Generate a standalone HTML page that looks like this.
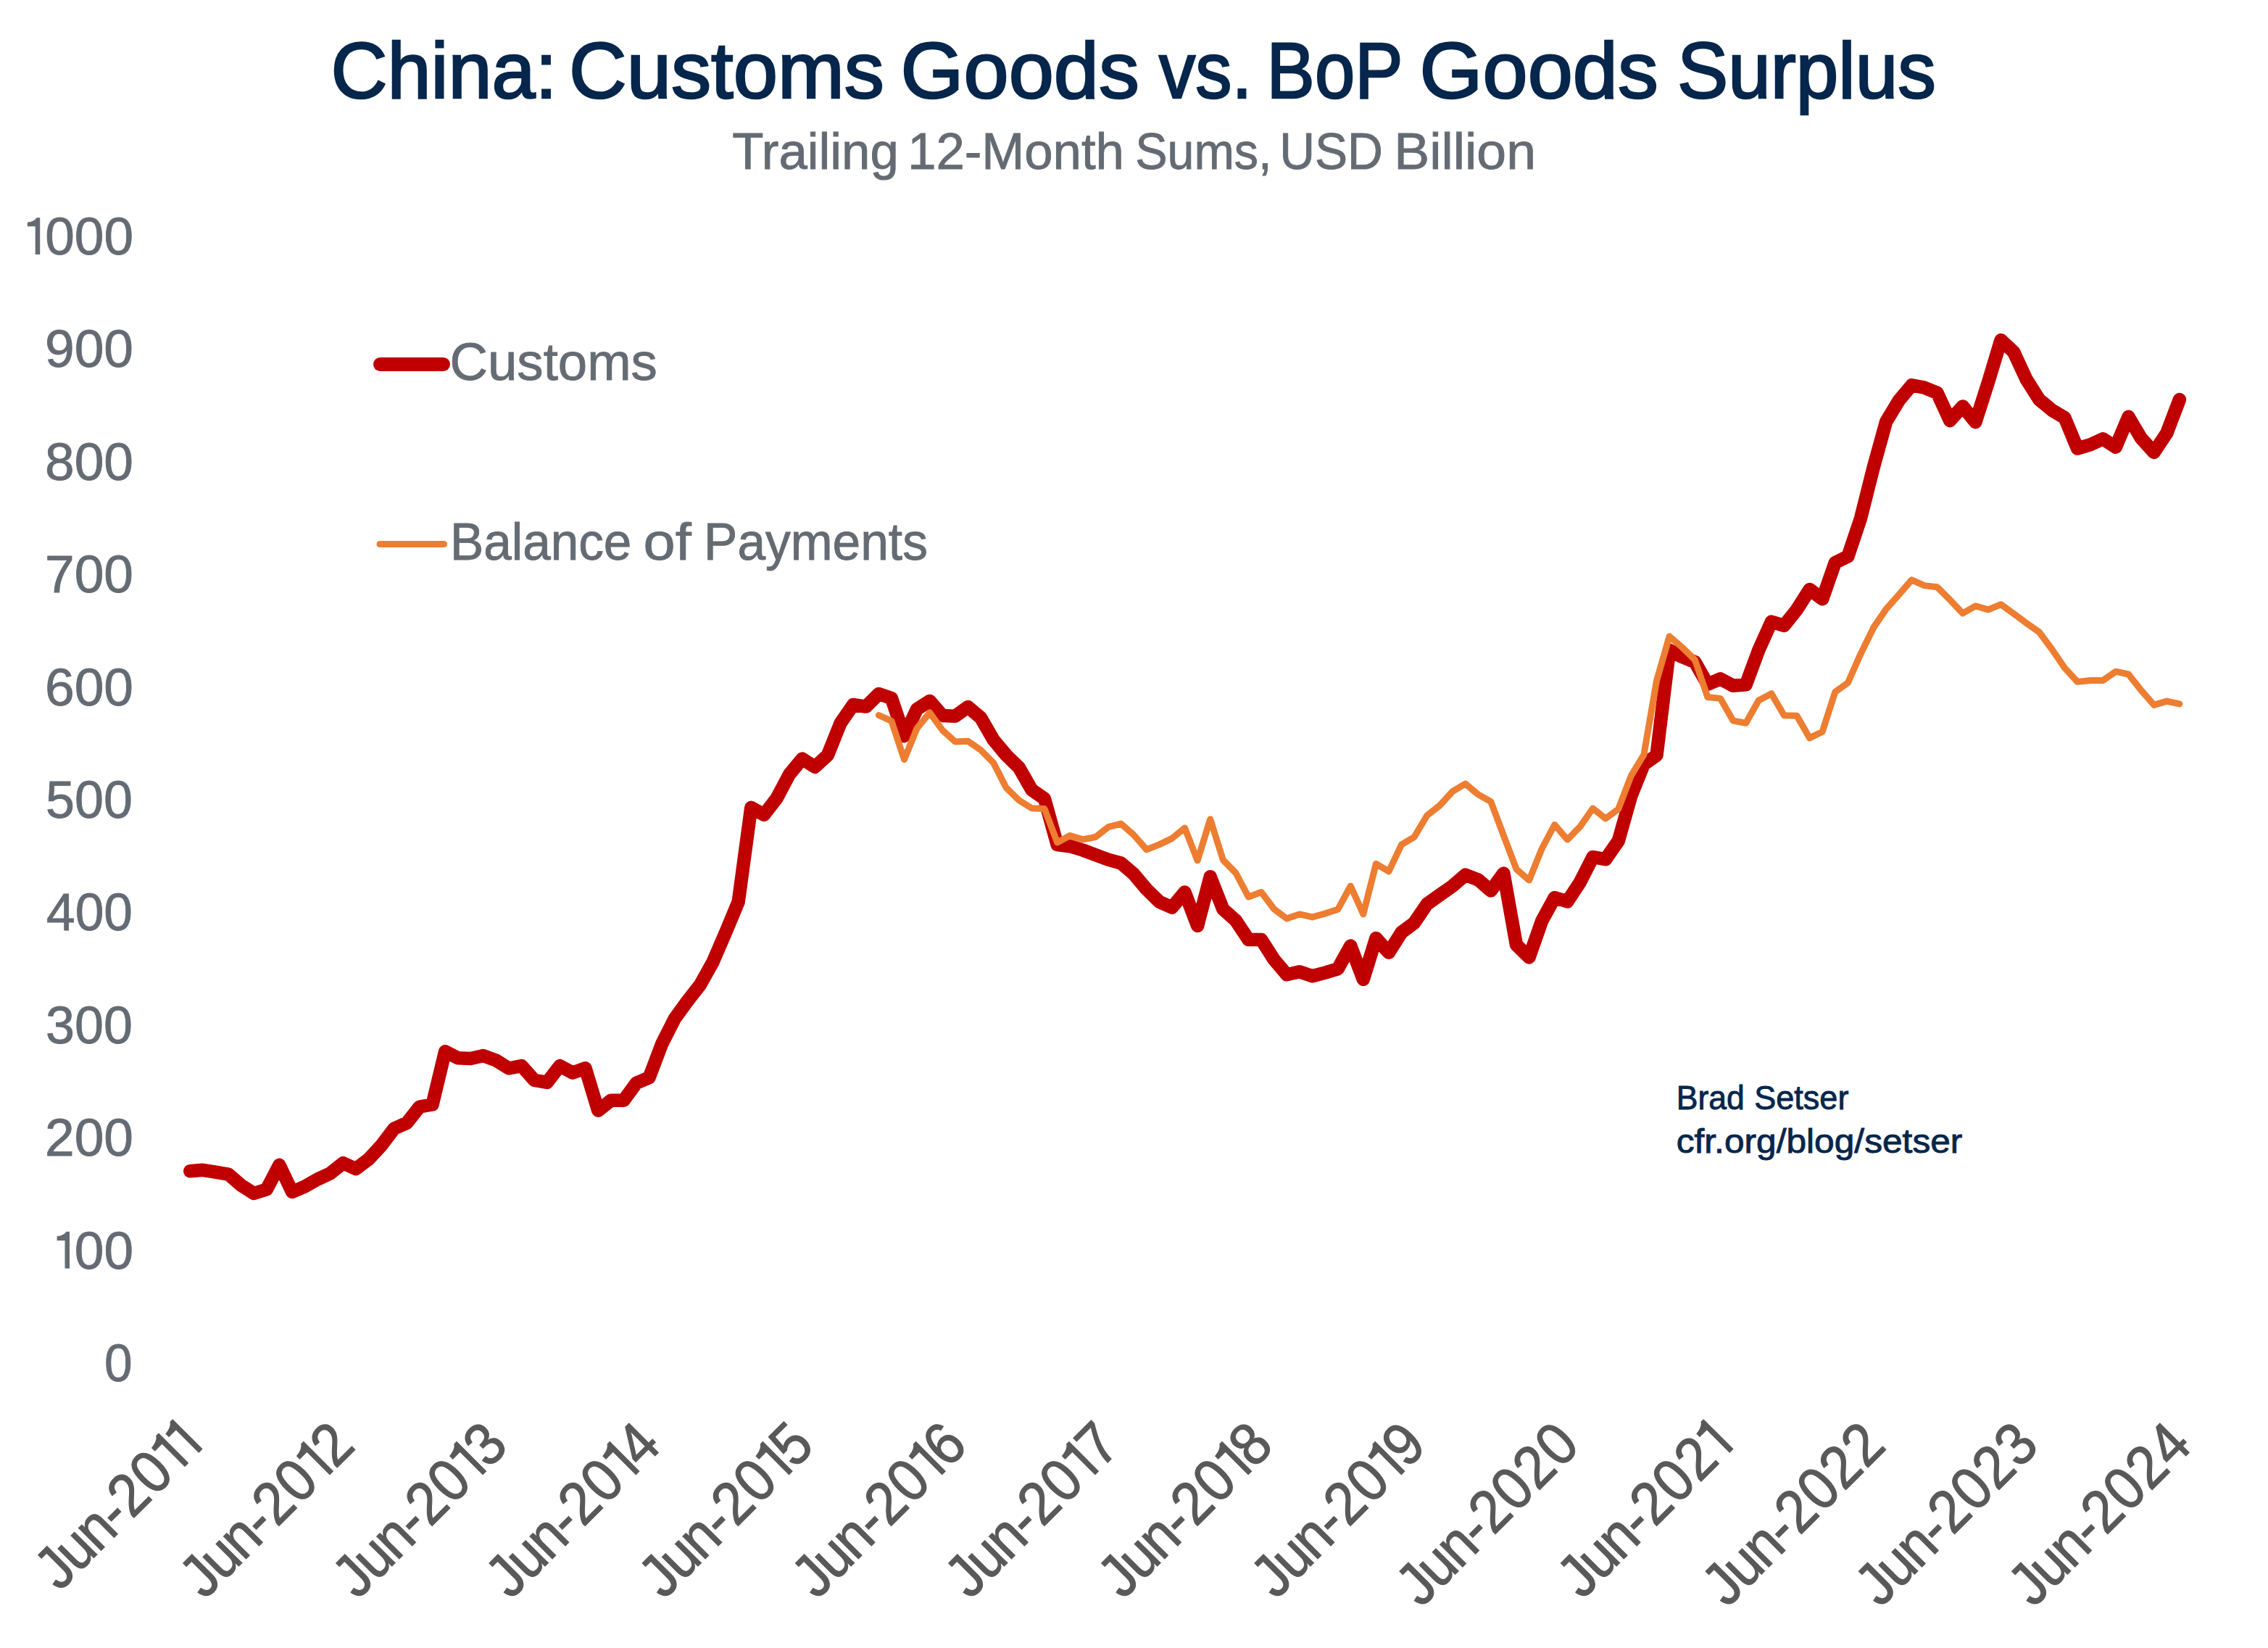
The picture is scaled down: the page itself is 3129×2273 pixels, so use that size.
<!DOCTYPE html>
<html><head><meta charset="utf-8"><title>China: Customs Goods vs. BoP Goods Surplus</title>
<style>
html,body{margin:0;padding:0;background:#fff;}
body{width:3129px;height:2273px;overflow:hidden;}
svg{display:block;}
text{font-family:"Liberation Sans",sans-serif;}
</style></head><body>
<svg width="3129" height="2273" viewBox="0 0 3129 2273">
<rect width="3129" height="2273" fill="#ffffff"/>
<text x="456.6" y="134.7" font-size="110" fill="#06264c" stroke="#06264c" stroke-width="2.6" stroke-linejoin="miter" textLength="312.0" lengthAdjust="spacingAndGlyphs">China:</text>
<text x="785.1" y="134.7" font-size="110" fill="#06264c" stroke="#06264c" stroke-width="2.6" stroke-linejoin="miter" textLength="434.8" lengthAdjust="spacingAndGlyphs">Customs</text>
<text x="1242.6" y="134.7" font-size="110" fill="#06264c" stroke="#06264c" stroke-width="2.6" stroke-linejoin="miter" textLength="329.3" lengthAdjust="spacingAndGlyphs">Goods</text>
<text x="1599.1" y="134.7" font-size="110" fill="#06264c" stroke="#06264c" stroke-width="2.6" stroke-linejoin="miter" textLength="128.2" lengthAdjust="spacingAndGlyphs">vs.</text>
<text x="1747.6" y="134.7" font-size="110" fill="#06264c" stroke="#06264c" stroke-width="2.6" stroke-linejoin="miter" textLength="187.9" lengthAdjust="spacingAndGlyphs">BoP</text>
<text x="1958.6" y="134.7" font-size="110" fill="#06264c" stroke="#06264c" stroke-width="2.6" stroke-linejoin="miter" textLength="329.3" lengthAdjust="spacingAndGlyphs">Goods</text>
<text x="2314.1" y="134.7" font-size="110" fill="#06264c" stroke="#06264c" stroke-width="2.6" stroke-linejoin="miter" textLength="356.8" lengthAdjust="spacingAndGlyphs">Surplus</text>
<text x="1010.2" y="232.5" font-size="70" fill="#646b73" stroke="#646b73" stroke-width="0.9" stroke-linejoin="miter" textLength="229.6" lengthAdjust="spacingAndGlyphs">Trailing</text>
<text x="1252.2" y="232.5" font-size="70" fill="#646b73" stroke="#646b73" stroke-width="0.9" stroke-linejoin="miter" textLength="298.7" lengthAdjust="spacingAndGlyphs">12-Month</text>
<text x="1566.2" y="232.5" font-size="70" fill="#646b73" stroke="#646b73" stroke-width="0.9" stroke-linejoin="miter" textLength="188.2" lengthAdjust="spacingAndGlyphs">Sums,</text>
<text x="1765.2" y="232.5" font-size="70" fill="#646b73" stroke="#646b73" stroke-width="0.9" stroke-linejoin="miter" textLength="142.7" lengthAdjust="spacingAndGlyphs">USD</text>
<text x="1923.2" y="232.5" font-size="70" fill="#646b73" stroke="#646b73" stroke-width="0.9" stroke-linejoin="miter" textLength="195.8" lengthAdjust="spacingAndGlyphs">Billion</text>
<text x="144.1" y="1904.9" font-size="73" fill="#646b73" stroke="#646b73" stroke-width="0.9" stroke-linejoin="miter" textLength="38.6" lengthAdjust="spacingAndGlyphs">0</text>
<text x="102.8" y="1749.5" font-size="73" fill="#646b73" stroke="#646b73" stroke-width="0.9">00</text><path transform="translate(96.0,1749.5)" d="M0.00,0 L0.00,-50.70 L-4.70,-50.70 C-6.70,-47.23 -11.41,-44.72 -17.40,-44.40 L-17.40,-38.60 L-6.50,-38.60 L-6.50,0 Z" fill="#646b73"/>
<text x="62.1" y="1594.1" font-size="73" fill="#646b73" stroke="#646b73" stroke-width="0.9" stroke-linejoin="miter" textLength="121.9" lengthAdjust="spacingAndGlyphs">200</text>
<text x="63.1" y="1438.7" font-size="73" fill="#646b73" stroke="#646b73" stroke-width="0.9" stroke-linejoin="miter" textLength="119.8" lengthAdjust="spacingAndGlyphs">300</text>
<text x="64.1" y="1283.3" font-size="73" fill="#646b73" stroke="#646b73" stroke-width="0.9" stroke-linejoin="miter" textLength="118.8" lengthAdjust="spacingAndGlyphs">400</text>
<text x="63.1" y="1127.9" font-size="73" fill="#646b73" stroke="#646b73" stroke-width="0.9" stroke-linejoin="miter" textLength="119.8" lengthAdjust="spacingAndGlyphs">500</text>
<text x="62.1" y="972.5" font-size="73" fill="#646b73" stroke="#646b73" stroke-width="0.9" stroke-linejoin="miter" textLength="121.9" lengthAdjust="spacingAndGlyphs">600</text>
<text x="62.1" y="817.1" font-size="73" fill="#646b73" stroke="#646b73" stroke-width="0.9" stroke-linejoin="miter" textLength="121.9" lengthAdjust="spacingAndGlyphs">700</text>
<text x="62.1" y="661.7" font-size="73" fill="#646b73" stroke="#646b73" stroke-width="0.9" stroke-linejoin="miter" textLength="121.9" lengthAdjust="spacingAndGlyphs">800</text>
<text x="62.1" y="506.3" font-size="73" fill="#646b73" stroke="#646b73" stroke-width="0.9" stroke-linejoin="miter" textLength="121.9" lengthAdjust="spacingAndGlyphs">900</text>
<text x="62.2" y="350.9" font-size="73" fill="#646b73" stroke="#646b73" stroke-width="0.9">000</text><path transform="translate(55.2,350.9)" d="M0.00,0 L0.00,-50.70 L-4.70,-50.70 C-6.70,-47.23 -11.41,-44.72 -17.40,-44.40 L-17.40,-38.60 L-6.50,-38.60 L-6.50,0 Z" fill="#646b73"/>
<text x="620.6" y="524.2" font-size="72" fill="#646b73" stroke="#646b73" stroke-width="0.9" stroke-linejoin="miter" textLength="286.3" lengthAdjust="spacingAndGlyphs">Customs</text>
<text x="621.1" y="772.2" font-size="72" fill="#646b73" stroke="#646b73" stroke-width="0.9" stroke-linejoin="miter" textLength="250.3" lengthAdjust="spacingAndGlyphs">Balance</text>
<text x="887.6" y="772.2" font-size="72" fill="#646b73" stroke="#646b73" stroke-width="0.9" stroke-linejoin="miter" textLength="66.2" lengthAdjust="spacingAndGlyphs">of</text>
<text x="971.1" y="772.2" font-size="72" fill="#646b73" stroke="#646b73" stroke-width="0.9" stroke-linejoin="miter" textLength="308.8" lengthAdjust="spacingAndGlyphs">Payments</text>
<text x="2312.7" y="1530.0" font-size="46" fill="#06264c" stroke="#06264c" stroke-width="0.9" stroke-linejoin="miter" textLength="94.2" lengthAdjust="spacingAndGlyphs">Brad</text>
<text x="2420.2" y="1530.0" font-size="46" fill="#06264c" stroke="#06264c" stroke-width="0.9" stroke-linejoin="miter" textLength="130.2" lengthAdjust="spacingAndGlyphs">Setser</text>
<text x="2312.7" y="1589.7" font-size="46" fill="#06264c" stroke="#06264c" stroke-width="0.9" stroke-linejoin="miter" textLength="394.7" lengthAdjust="spacingAndGlyphs">cfr.org/blog/setser</text>
<g transform="translate(281.7,1996.5) rotate(-45)" fill="#595959"><text transform="scale(0.92,1)" x="-306.6 -267.6 -224.2 -180.1 -152.8 -105.8" y="0" font-size="83" stroke="#595959" stroke-width="1.2">Jun-20</text><path transform="translate(-54.50,0)" d="M24.25,0 L24.25,-58.50 L18.85,-58.50 C16.85,-54.48 10.45,-51.56 2.75,-51.20 L2.75,-44.50 L16.75,-44.50 L16.75,0 Z"/><path transform="translate(-27.25,0)" d="M24.25,0 L24.25,-58.50 L18.85,-58.50 C16.85,-54.48 10.45,-51.56 2.75,-51.20 L2.75,-44.50 L16.75,-44.50 L16.75,0 Z"/></g>
<g transform="translate(492.9,1996.5) rotate(-45)" fill="#595959"><text transform="scale(0.92,1)" x="-324.0 -285.0 -241.6 -197.5 -170.2 -123.2 -46.6" y="0" font-size="83" stroke="#595959" stroke-width="1.2">Jun-202</text><path transform="translate(-70.50,0)" d="M24.25,0 L24.25,-58.50 L18.85,-58.50 C16.85,-54.48 10.45,-51.56 2.75,-51.20 L2.75,-44.50 L16.75,-44.50 L16.75,0 Z"/></g>
<g transform="translate(704.1,1996.5) rotate(-45)" fill="#595959"><text transform="scale(0.92,1)" x="-324.0 -285.0 -241.6 -197.5 -170.2 -123.2 -46.6" y="0" font-size="83" stroke="#595959" stroke-width="1.2">Jun-203</text><path transform="translate(-70.50,0)" d="M24.25,0 L24.25,-58.50 L18.85,-58.50 C16.85,-54.48 10.45,-51.56 2.75,-51.20 L2.75,-44.50 L16.75,-44.50 L16.75,0 Z"/></g>
<g transform="translate(915.3,1996.5) rotate(-45)" fill="#595959"><text transform="scale(0.92,1)" x="-324.0 -285.0 -241.6 -197.5 -170.2 -123.2 -46.6" y="0" font-size="83" stroke="#595959" stroke-width="1.2">Jun-204</text><path transform="translate(-70.50,0)" d="M24.25,0 L24.25,-58.50 L18.85,-58.50 C16.85,-54.48 10.45,-51.56 2.75,-51.20 L2.75,-44.50 L16.75,-44.50 L16.75,0 Z"/></g>
<g transform="translate(1126.5,1996.5) rotate(-45)" fill="#595959"><text transform="scale(0.92,1)" x="-324.0 -285.0 -241.6 -197.5 -170.2 -123.2 -46.6" y="0" font-size="83" stroke="#595959" stroke-width="1.2">Jun-205</text><path transform="translate(-70.50,0)" d="M24.25,0 L24.25,-58.50 L18.85,-58.50 C16.85,-54.48 10.45,-51.56 2.75,-51.20 L2.75,-44.50 L16.75,-44.50 L16.75,0 Z"/></g>
<g transform="translate(1337.7,1996.5) rotate(-45)" fill="#595959"><text transform="scale(0.92,1)" x="-324.0 -285.0 -241.6 -197.5 -170.2 -123.2 -46.6" y="0" font-size="83" stroke="#595959" stroke-width="1.2">Jun-206</text><path transform="translate(-70.50,0)" d="M24.25,0 L24.25,-58.50 L18.85,-58.50 C16.85,-54.48 10.45,-51.56 2.75,-51.20 L2.75,-44.50 L16.75,-44.50 L16.75,0 Z"/></g>
<g transform="translate(1548.9,1996.5) rotate(-45)" fill="#595959"><text transform="scale(0.92,1)" x="-324.0 -285.0 -241.6 -197.5 -170.2 -123.2 -46.6" y="0" font-size="83" stroke="#595959" stroke-width="1.2">Jun-207</text><path transform="translate(-70.50,0)" d="M24.25,0 L24.25,-58.50 L18.85,-58.50 C16.85,-54.48 10.45,-51.56 2.75,-51.20 L2.75,-44.50 L16.75,-44.50 L16.75,0 Z"/></g>
<g transform="translate(1760.1,1996.5) rotate(-45)" fill="#595959"><text transform="scale(0.92,1)" x="-324.0 -285.0 -241.6 -197.5 -170.2 -123.2 -46.6" y="0" font-size="83" stroke="#595959" stroke-width="1.2">Jun-208</text><path transform="translate(-70.50,0)" d="M24.25,0 L24.25,-58.50 L18.85,-58.50 C16.85,-54.48 10.45,-51.56 2.75,-51.20 L2.75,-44.50 L16.75,-44.50 L16.75,0 Z"/></g>
<g transform="translate(1971.3,1996.5) rotate(-45)" fill="#595959"><text transform="scale(0.92,1)" x="-324.0 -285.0 -241.6 -197.5 -170.2 -123.2 -46.6" y="0" font-size="83" stroke="#595959" stroke-width="1.2">Jun-209</text><path transform="translate(-70.50,0)" d="M24.25,0 L24.25,-58.50 L18.85,-58.50 C16.85,-54.48 10.45,-51.56 2.75,-51.20 L2.75,-44.50 L16.75,-44.50 L16.75,0 Z"/></g>
<g transform="translate(2182.5,1996.5) rotate(-45)" fill="#595959"><text transform="scale(0.92,1)" x="-341.4 -302.4 -258.9 -214.9 -187.6 -140.6 -93.6 -46.6" y="0" font-size="83" stroke="#595959" stroke-width="1.2">Jun-2020</text></g>
<g transform="translate(2393.7,1996.5) rotate(-45)" fill="#595959"><text transform="scale(0.92,1)" x="-324.0 -285.0 -241.6 -197.5 -170.2 -123.2 -76.2" y="0" font-size="83" stroke="#595959" stroke-width="1.2">Jun-202</text><path transform="translate(-27.25,0)" d="M24.25,0 L24.25,-58.50 L18.85,-58.50 C16.85,-54.48 10.45,-51.56 2.75,-51.20 L2.75,-44.50 L16.75,-44.50 L16.75,0 Z"/></g>
<g transform="translate(2604.9,1996.5) rotate(-45)" fill="#595959"><text transform="scale(0.92,1)" x="-341.4 -302.4 -258.9 -214.9 -187.6 -140.6 -93.6 -46.6" y="0" font-size="83" stroke="#595959" stroke-width="1.2">Jun-2022</text></g>
<g transform="translate(2816.1,1996.5) rotate(-45)" fill="#595959"><text transform="scale(0.92,1)" x="-341.4 -302.4 -258.9 -214.9 -187.6 -140.6 -93.6 -46.6" y="0" font-size="83" stroke="#595959" stroke-width="1.2">Jun-2023</text></g>
<g transform="translate(3027.3,1996.5) rotate(-45)" fill="#595959"><text transform="scale(0.92,1)" x="-341.4 -302.4 -258.9 -214.9 -187.6 -140.6 -93.6 -46.6" y="0" font-size="83" stroke="#595959" stroke-width="1.2">Jun-2024</text></g>
<polyline fill="none" stroke="#C00000" stroke-width="18.5" stroke-linejoin="round" stroke-linecap="round" points="262.2,1615.3 279.8,1613.8 297.4,1616.7 315.0,1619.6 332.6,1634.7 350.2,1646.0 367.8,1640.5 385.4,1606.9 403.0,1643.9 420.5,1636.5 438.1,1626.5 455.7,1618.3 473.3,1604.2 490.9,1612.2 508.5,1598.9 526.1,1579.9 543.7,1556.6 561.3,1548.7 578.9,1526.5 596.5,1523.5 614.1,1450.3 631.7,1459.3 649.3,1460.1 666.9,1456.1 684.5,1462.7 702.0,1473.5 719.6,1470.1 737.2,1489.9 754.8,1492.9 772.4,1470.1 790.0,1479.6 807.6,1473.3 825.2,1531.7 842.8,1517.7 860.4,1517.7 878.0,1493.7 895.6,1486.2 913.2,1439.7 930.8,1405.0 948.4,1380.7 966.0,1358.2 983.6,1326.7 1001.1,1286.2 1018.7,1243.7 1036.3,1113.8 1053.9,1123.8 1071.5,1101.1 1089.1,1068.0 1106.7,1046.6 1124.3,1057.7 1141.9,1041.5 1159.5,997.6 1177.1,972.0 1194.7,974.6 1212.3,957.1 1229.9,963.0 1247.5,1015.1 1265.1,978.0 1282.7,966.9 1300.2,987.0 1317.8,987.8 1335.4,975.1 1353.0,989.9 1370.6,1020.4 1388.2,1041.5 1405.8,1058.7 1423.4,1089.4 1441.0,1101.6 1458.6,1165.1 1476.2,1167.2 1493.8,1172.5 1511.4,1179.1 1529.0,1185.7 1546.6,1190.5 1564.2,1205.6 1581.8,1226.5 1599.3,1243.7 1616.9,1251.6 1634.5,1230.5 1652.1,1276.8 1669.7,1209.3 1687.3,1253.8 1704.9,1269.6 1722.5,1296.1 1740.1,1296.1 1757.7,1323.6 1775.3,1344.2 1792.9,1340.3 1810.5,1346.3 1828.1,1341.6 1845.7,1336.3 1863.3,1304.6 1880.8,1350.8 1898.4,1294.0 1916.0,1313.8 1933.6,1286.0 1951.2,1272.8 1968.8,1246.9 1986.4,1234.4 2004.0,1222.0 2021.6,1206.7 2039.2,1213.3 2056.8,1228.4 2074.4,1204.6 2092.0,1303.2 2109.6,1320.4 2127.2,1270.2 2144.8,1238.0 2162.4,1243.3 2179.9,1216.8 2197.5,1182.2 2215.1,1185.1 2232.7,1159.9 2250.3,1097.8 2267.9,1054.1 2285.5,1041.7 2303.1,896.7 2320.7,906.0 2338.3,913.1 2355.9,943.8 2373.5,936.4 2391.1,945.7 2408.7,944.3 2426.3,896.7 2443.9,857.5 2461.4,862.8 2479.0,840.8 2496.6,813.0 2514.2,826.2 2531.8,776.0 2549.4,767.5 2567.0,715.1 2584.6,645.0 2602.2,581.5 2619.8,552.4 2637.4,531.3 2655.0,534.7 2672.6,541.9 2690.2,580.2 2707.8,560.4 2725.4,582.3 2743.0,527.3 2760.5,469.1 2778.1,485.5 2795.7,523.3 2813.3,551.1 2830.9,565.7 2848.5,576.2 2866.1,618.6 2883.7,613.3 2901.3,605.3 2918.9,616.7 2936.5,574.9 2954.1,604.6 2971.7,623.9 2989.3,597.4 3006.9,551.1"/>
<polyline fill="none" stroke="#ED7D31" stroke-width="9" stroke-linejoin="round" stroke-linecap="round" points="1212.3,986.5 1229.9,994.4 1247.5,1047.6 1265.1,1004.5 1282.7,982.8 1300.2,1007.1 1317.8,1023.0 1335.4,1022.2 1353.0,1034.4 1370.6,1052.1 1388.2,1086.5 1405.8,1103.7 1423.4,1114.8 1441.0,1115.6 1458.6,1161.9 1476.2,1152.6 1493.8,1157.9 1511.4,1154.5 1529.0,1140.7 1546.6,1136.2 1564.2,1151.6 1581.8,1171.7 1599.3,1164.9 1616.9,1156.4 1634.5,1141.9 1652.1,1186.8 1669.7,1129.9 1687.3,1186.0 1704.9,1204.0 1722.5,1237.1 1740.1,1230.5 1757.7,1253.8 1775.3,1267.0 1792.9,1260.9 1810.5,1264.9 1828.1,1260.1 1845.7,1254.3 1863.3,1222.0 1880.8,1260.9 1898.4,1191.3 1916.0,1201.9 1933.6,1164.9 1951.2,1154.3 1968.8,1124.7 1986.4,1110.9 2004.0,1091.6 2021.6,1081.0 2039.2,1095.6 2056.8,1105.6 2074.4,1152.4 2092.0,1198.7 2109.6,1214.1 2127.2,1170.5 2144.8,1137.5 2162.4,1158.1 2179.9,1140.1 2197.5,1115.0 2215.1,1129.0 2232.7,1115.8 2250.3,1070.0 2267.9,1040.9 2285.5,939.0 2303.1,877.7 2320.7,892.8 2338.3,909.9 2355.9,961.5 2373.5,963.4 2391.1,994.1 2408.7,997.2 2426.3,966.0 2443.9,956.8 2461.4,986.7 2479.0,987.2 2496.6,1017.9 2514.2,1009.2 2531.8,954.4 2549.4,941.7 2567.0,901.9 2584.6,865.9 2602.2,840.0 2619.8,820.3 2637.4,799.8 2655.0,807.6 2672.6,809.8 2690.2,827.3 2707.8,845.8 2725.4,835.8 2743.0,840.9 2760.5,833.7 2778.1,846.4 2795.7,859.5 2813.3,871.8 2830.9,895.5 2848.5,921.3 2866.1,940.4 2883.7,938.5 2901.3,938.5 2918.9,926.2 2936.5,930.0 2954.1,952.3 2971.7,972.4 2989.3,967.1 3006.9,970.9"/>
<line x1="524.5" y1="502.5" x2="611.5" y2="502.5" stroke="#C00000" stroke-width="19" stroke-linecap="round"/>
<line x1="524" y1="750.5" x2="612.5" y2="750.5" stroke="#ED7D31" stroke-width="9" stroke-linecap="round"/>
</svg></body></html>
